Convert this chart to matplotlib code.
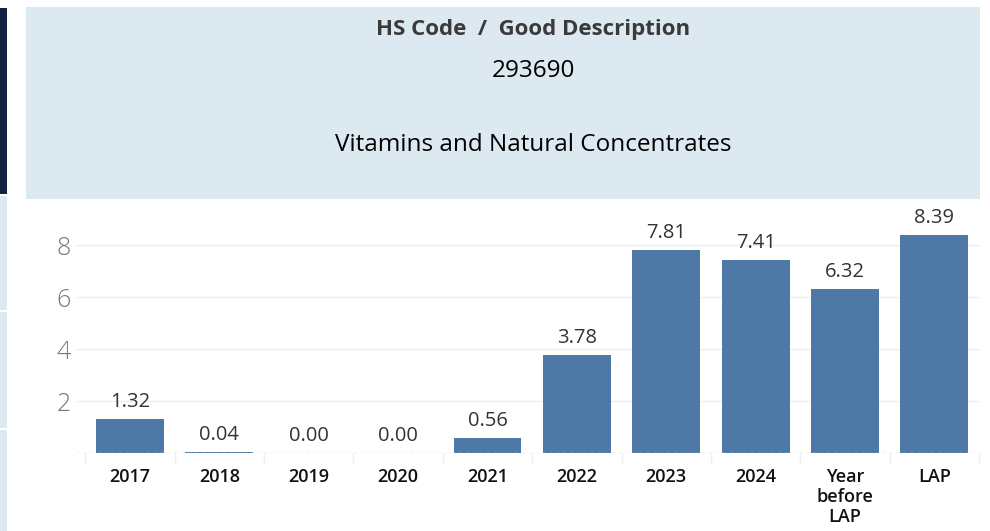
import matplotlib.pyplot as plt
from matplotlib.patches import Rectangle

W, H = 990, 531

categories = ['2017', '2018', '2019', '2020', '2021', '2022', '2023', '2024',
              'Year\nbefore\nLAP', 'LAP']
values = [1.32, 0.04, 0.00, 0.00, 0.56, 3.78, 7.81, 7.41, 6.32, 8.39]
y_ticks = [2, 4, 6, 8]

title_line = 'HS Code  /  Good Description'
hs_code = '293690'
description = 'Vitamins and Natural Concentrates'

BAR = '#4e79a7'
PANEL = '#dde9f0'
NAVY = '#12213f'

plt.rcParams['font.family'] = ['Open Sans', 'DejaVu Sans']

fig = plt.figure(figsize=(W / 100, H / 100), dpi=100)
fig.patch.set_facecolor('white')


def px(x0, y0, x1, y1):
    # pixel box (top-left origin) -> figure fraction rect
    return [x0 / W, 1 - y1 / H, (x1 - x0) / W, (y1 - y0) / H]


# left side strip
for (y0, y1, c) in [(8, 194, NAVY), (196, 310, PANEL), (312, 428, PANEL), (430, 531, PANEL)]:
    r = px(0, y0, 7, y1)
    fig.patches.append(Rectangle((r[0], r[1]), r[2], r[3], transform=fig.transFigure,
                                 facecolor=c, edgecolor='none'))

# header panel
r = px(26, 7, 980, 199)
fig.patches.append(Rectangle((r[0], r[1]), r[2], r[3], transform=fig.transFigure,
                             facecolor=PANEL, edgecolor='none'))
cx = 533 / W
fig.text(cx, 1 - 29 / H, title_line, ha='center', va='center',
         fontsize=16, fontweight='bold', color='#3a3a3a')
fig.text(cx, 1 - 71 / H, hs_code, ha='center', va='center', fontsize=17.5, color='black')
fig.text(cx, 1 - 145 / H, description, ha='center', va='center', fontsize=17.5, color='black')

# chart
ax = fig.add_axes(px(76, 205, 980, 453))
x = list(range(len(categories)))
ax.bar(x, values, width=0.76, color=BAR, zorder=3)
ax.set_xlim(-0.604, 9.51)
ax.set_ylim(0, 9.54)

for s in ax.spines.values():
    s.set_visible(False)
ax.set_yticks(y_ticks)
ax.set_yticklabels([str(t) for t in y_ticks], fontsize=18, color='#777777',
                   fontweight='light')
ax.tick_params(axis='y', length=0, pad=4)
for t in y_ticks:
    ax.axhline(t, color='#eeeeee', linewidth=1, zorder=1)
ax.axhline(0, color='#c8c8c8', linewidth=1, linestyle=(0, (3, 2)), zorder=4)

ax.set_xticks(x)
ax.set_xticklabels(categories, fontsize=13, color='#111111', linespacing=1.12,
                   va='top', fontweight='semibold')
ax.tick_params(axis='x', length=0, pad=11)
# category separators below baseline
for b in [i - 0.5 for i in range(len(categories) + 1)]:
    ax.plot([b, b], [0, -0.35], color='#eeeeee', linewidth=1, clip_on=False, zorder=2)

for xi, v in zip(x, values):
    ax.annotate(f'{v:.2f}', (xi, v), xytext=(0, 5), textcoords='offset points',
                ha='center', va='bottom', fontsize=14.5, color='#333333')

fig.savefig('out.png', dpi=100, facecolor='white')
